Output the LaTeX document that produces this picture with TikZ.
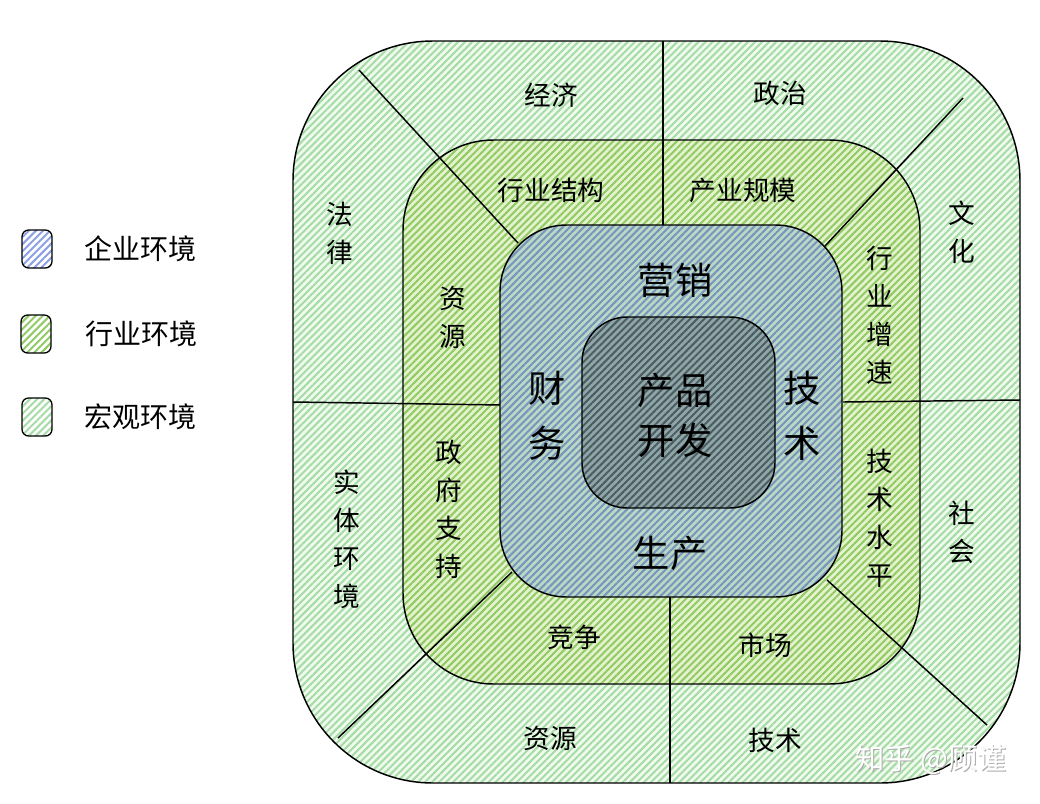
\documentclass[tikz,border=0pt]{standalone}
\usepackage{fontspec}
\newfontfamily\cjk{Noto Sans CJK SC}
\usetikzlibrary{positioning,patterns.meta}

\definecolor{macrobase}{RGB}{240,250,238}
\definecolor{macroline}{RGB}{165,220,165}
\definecolor{indbase}{RGB}{228,243,205}
\definecolor{indline}{RGB}{145,202,100}
\definecolor{entbase}{RGB}{186,216,196}
\definecolor{entline}{RGB}{118,148,188}
\definecolor{corebase}{RGB}{142,168,170}
\definecolor{coreline}{RGB}{78,92,98}
\definecolor{legentline}{RGB}{140,160,228}
\definecolor{markgray}{RGB}{170,170,170}

\tikzset{
  hatch/.style 2 args={preaction={fill=#1},
    preaction={pattern={Lines[angle=45,distance=3.75pt,line width=1.5pt]},pattern color=#2}},
  border/.style={draw,line width=1.1pt},
  divider/.style={line width=1.1pt},
  lbl/.style={font=\cjk\fontsize{20}{28.5}\selectfont,align=center,inner sep=0pt},
  biglbl/.style={font=\cjk\fontsize{28}{41}\selectfont,align=center,inner sep=0pt},
  leglbl/.style={font=\cjk\fontsize{21}{25}\selectfont,inner sep=0pt},
  legbox/.style={border,line width=1pt,rounded corners=5pt,minimum width=22.5pt,minimum height=28.5pt,inner sep=0pt},
}

\newcommand\envbox[6]{%
  \draw[border,rounded corners=#5,hatch=#6] (#1,#2) rectangle (#3,#4)
}

\begin{document}
\begin{tikzpicture}[x=0.75pt,y=-0.75pt]
        \useasboundingbox (0,0) rectangle (1040,804);

        % The rings
        \envbox{293}{41}{1020}{783}{105pt}{{macrobase}{macroline}};
        \envbox{403}{140}{920}{684}{68pt}{{indbase}{indline}};
        % Dividers
        \foreach \xa/\ya/\xb/\yb in {663/41/663/228, 359/70/518/243, 963/98/825/246,
            293/402/502/405, 843/402/1020/400, 512/572/338/738,
            670/597/670/783, 827/580/987/725}
          \draw[divider] (\xa,\ya) -- (\xb,\yb);
        \envbox{500}{225}{842}{597}{50pt}{{entbase}{entline}};
        \envbox{582}{317}{775}{508}{34pt}{{corebase}{coreline}};

        % Macro environment
        \node[lbl] (econ) at (551,95) {经济};
        \node[lbl] (poli) at (780,93) {政治};
        \node[lbl] (cult) at (962,232) {文\\化};
        \node[lbl] (soci) at (962,532) {社\\会};
        \node[lbl] (mtech) at (775,740) {技术};
        \node[lbl] (mres) at (550,738) {资源};
        \node[lbl] (phys) at (347,539) {实\\体\\环\\境};
        \node[lbl] (law) at (340,233) {法\\律};

        % Industry environment
        \node[lbl] (struct) at (551,190) {行业结构};
        \node[lbl] (scale) at (743,190) {产业规模};
        \node[lbl] (growth) at (880,315) {行\\业\\增\\速};
        \node[lbl] (level) at (880,518) {技\\术\\水\\平};
        \node[lbl] (market) at (765,645) {市场};
        \node[lbl] (compet) at (574,637) {竞争};
        \node[lbl] (gov) at (449,509) {政\\府\\支\\持};
        \node[lbl] (ires) at (453,317) {资\\源};

        % Enterprise environment
        \node[biglbl] (sales) at (675,280) {营销};
        \node[biglbl] (fin) at (547,416) {财\\务};
        \node[biglbl] (etech) at (802,416) {技\\术};
        \node[biglbl] (prod) at (670,553) {生产};
        \node[biglbl,font=\cjk\fontsize{28}{37.5}\selectfont] (dev) at (675,415) {产品\\开发};

        % Legend
        \node[legbox,hatch={white}{legentline}] (kent) at (37,249) {};
        \node[legbox,hatch={white}{indline}] (kind) at (36,334) {};
        \node[legbox,hatch={white}{macroline}] (kmac) at (37,417) {};
        \node[leglbl,right=24pt of kent] (tent) {企业环境};
        \node[leglbl,right=25pt of kind] (tind) {行业环境};
        \node[leglbl,right=24pt of kmac] (tmac) {宏观环境};

        % Watermark
        \node[leglbl,font=\cjk\fontsize{22}{25}\selectfont,text=markgray] (mark) at (932,761) {知乎 @顾谨};
        \node[leglbl,font=\cjk\fontsize{22}{25}\selectfont,text=white] at ([xshift=-0.8pt,yshift=0.8pt]mark.center) {知乎 @顾谨};
    \end{tikzpicture}
\end{document}
